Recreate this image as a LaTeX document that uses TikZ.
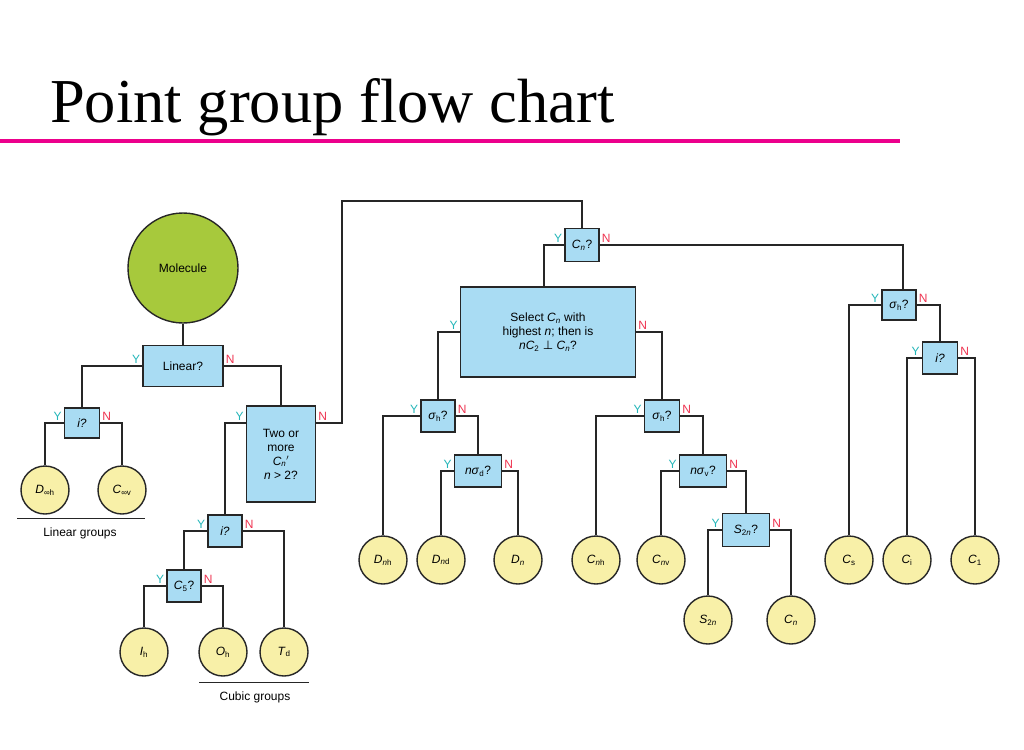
\documentclass[tikz,border=0pt]{standalone}
\usepackage{fontspec}
\setmainfont{Liberation Sans}
\newfontfamily\titlefont{Liberation Serif}
\newfontfamily\djv{DejaVu Sans}
\newcommand\ms[2]{\textit{#1}\textsubscript{#2}}
\begin{document}
\begin{tikzpicture}[x=1pt,y=-1pt,
  every node/.style={font=\fontsize{12}{14}\selectfont},
  yn/.style={label={[text=ycol,anchor=south east,inner sep=2pt]west:Y},
    label={[text=ncol,anchor=south west,inner sep=2pt]east:N}},
  qb/.style={draw=black!85,line width=1.4pt,fill=boxc,inner sep=1pt,align=center},
  q/.style={qb,yn},
  res/.style={circle,draw=black!85,line width=1.4pt,fill=circc,minimum size=48pt,inner sep=0pt},
  ln/.style={draw=black!85,line width=1.4pt}]
\definecolor{boxc}{HTML}{A9DCF3}
\definecolor{circc}{HTML}{F8F0A8}
\definecolor{ycol}{HTML}{22B5B8}
\definecolor{ncol}{HTML}{EE3350}
\definecolor{molc}{HTML}{A7C93C}
\useasboundingbox (0,0) rectangle (1024,749);
\node[anchor=base west,font=\titlefont\fontsize{62.5}{66}\selectfont,inner sep=0pt] (title) at (50,122) {Point group flow chart};
\draw[line width=4pt,magenta] (0,141) -- (900,141);
% left
\node[circle,draw=black!85,line width=1.4pt,fill=molc,minimum size=110pt] (mol) at (183,268) {Molecule};
\node[q,minimum width=80pt,minimum height=41pt] (lin) at (183,366) {Linear?};
\node[q,minimum width=35pt,minimum height=30pt] (i1) at (82,423) {\itshape i?};
\node[res] (dinfh) at (45,490) {\textit{D}\textsubscript{∞h}};
\node[res] (cinfv) at (122,490) {\textit{C}\textsubscript{∞v}};
\draw[ln,line width=1pt] (17,518) coordinate (l1) -- (145,518) coordinate (l2);
\node (lg) at (80,533) {Linear groups};
\node[qb,minimum width=69pt,minimum height=96pt] (two) at (281,454) {Two or\\more\\\ms{C}{\textit{n}}$'$\\\textit{n} > 2?};
\node[text=ycol,anchor=south east,inner sep=2pt] (twoy) at (two.west|-0,423) {Y};
\node[text=ncol,anchor=south west,inner sep=2pt] (twon) at (two.east|-0,423) {N};
\node[q,minimum width=34pt,minimum height=32pt] (i2) at (225,531) {\itshape i?};
\node[q,minimum width=34pt,minimum height=32pt] (c5) at (184,586) {\ms{C}{5}?};
\node[res] (ih) at (144,652) {\ms{I}{h}};
\node[res] (oh) at (223,652) {\ms{O}{h}};
\node[res] (td) at (284,652) {\ms{T}{d}};
\draw[ln,line width=1pt] (199,682) coordinate (c1) -- (309,682) coordinate (c2);
\node (cg) at (255,697) {Cubic groups};
% middle
\node[q,minimum width=34pt,minimum height=33pt] (cn) at (582,245) {\ms{C}{\textit{n}}?};
\node[q,minimum width=175pt,minimum height=90pt] (sel) at (548,332) {Select \ms{C}{\textit{n}} with\\highest \textit{n}; then is\\\textit{n}\ms{C}{2} {\djv ⊥} \ms{C}{\textit{n}}?};
\node[q,minimum width=34pt,minimum height=32pt] (sh1) at (438,416) {\ms{σ}{h}?};
\node[q,minimum width=47pt,minimum height=32pt] (nsd) at (478,471) {\textit{n}\ms{σ}{d}?};
\node[res] (dnh) at (383,560) {\ms{D}{\textit{n}h}};
\node[res] (dnd) at (441,560) {\ms{D}{\textit{n}d}};
\node[res] (dn) at (518,560) {\ms{D}{\textit{n}}};
\node[q,minimum width=35pt,minimum height=32pt] (sh2) at (662,416) {\ms{σ}{h}?};
\node[q,minimum width=47pt,minimum height=32pt] (nsv) at (703,471) {\textit{n}\ms{σ}{v}?};
\node[q,minimum width=47pt,minimum height=33pt] (s2q) at (746,530) {\ms{S}{2\textit{n}}?};
\node[res] (cnh) at (596,560) {\ms{C}{\textit{n}h}};
\node[res] (cnv) at (661,560) {\ms{C}{\textit{n}v}};
\node[res] (s2n) at (708,620) {\ms{S}{2\textit{n}}};
\node[res] (cnr) at (791,620) {\ms{C}{\textit{n}}};
% right
\node[q,minimum width=34pt,minimum height=30pt] (sh3) at (899,305) {\ms{σ}{h}?};
\node[q,minimum width=35pt,minimum height=32pt] (i3) at (940,358) {\itshape i?};
\node[res] (cs) at (849,560) {\ms{C}{s}};
\node[res] (ci) at (907,560) {\ms{C}{i}};
\node[res] (c1n) at (975,560) {\ms{C}{1}};
% connectors
\draw[ln] (mol) -- (lin);
\draw[ln] (lin.west) -| (i1.north);
\draw[ln] (lin.east) -| (two.north);
\draw[ln] (i1.west) -| (dinfh.north);
\draw[ln] (i1.east) -| (cinfv.north);
\draw[ln] (two.west|-i1.west) -| (i2.north);
\draw[ln] (two.east|-i1.east) -- (342,423) coordinate (t1) -- (342,201) coordinate (t2) -| (cn.north);
\draw[ln] (i2.west) -| (c5.north);
\draw[ln] (i2.east) -| (td.north);
\draw[ln] (c5.west) -| (ih.north);
\draw[ln] (c5.east) -| (oh.north);
\draw[ln] (cn.west) -| (sel.north-|544,0);
\draw[ln] (cn.east) -| (sh3.north-|903,0);
\draw[ln] (sel.west) -| (sh1.north);
\draw[ln] (sel.east) -| (sh2.north);
\draw[ln] (sh1.west) -| (dnh.north);
\draw[ln] (sh1.east) -| (nsd.north);
\draw[ln] (nsd.west) -| (dnd.north);
\draw[ln] (nsd.east) -| (dn.north);
\draw[ln] (sh2.west) -| (cnh.north);
\draw[ln] (sh2.east) -| (nsv.north);
\draw[ln] (nsv.west) -| (cnv.north);
\draw[ln] (nsv.east) -| (s2q.north);
\draw[ln] (s2q.west) -| (s2n.north);
\draw[ln] (s2q.east) -| (cnr.north);
\draw[ln] (sh3.west) -| (cs.north);
\draw[ln] (sh3.east) -| (i3.north);
\draw[ln] (i3.west) -| (ci.north);
\draw[ln] (i3.east) -| (c1n.north);
\end{tikzpicture}
\end{document}
